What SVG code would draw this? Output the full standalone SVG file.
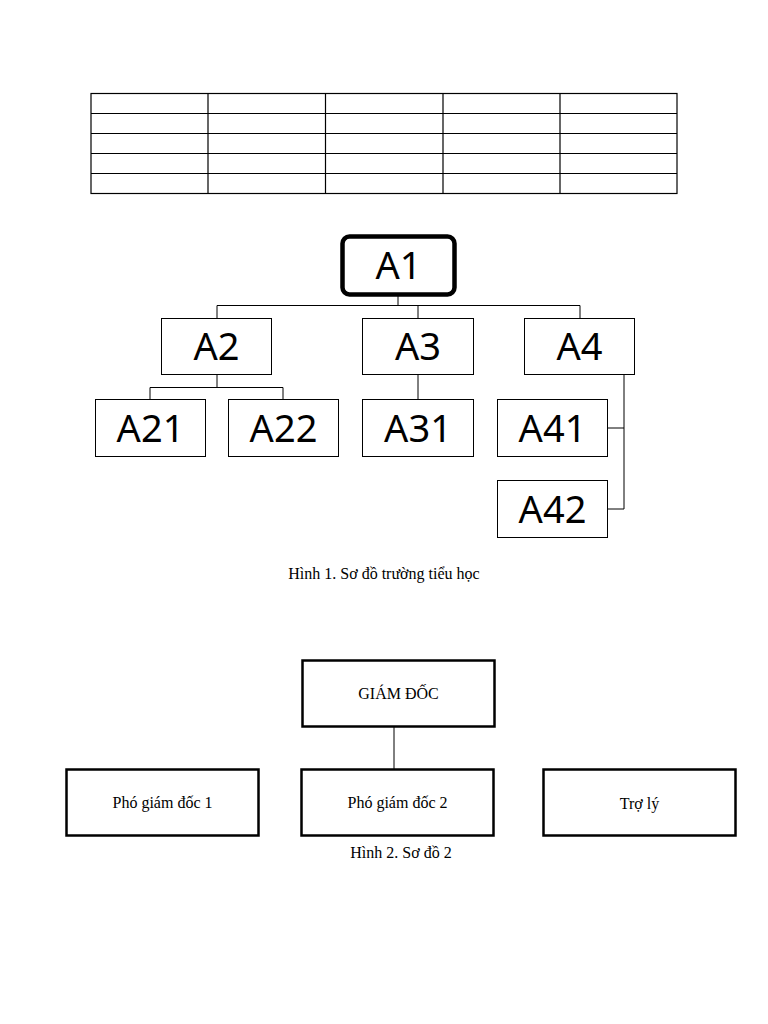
<svg xmlns="http://www.w3.org/2000/svg" width="768" height="1024" viewBox="0 0 768 1024">
<style>
.tbl{fill:none;stroke:#000;stroke-width:1.2}
.box{fill:#fff;stroke:#000;stroke-width:1}
.bigbox{fill:#fff;stroke:#000;stroke-width:4.5}
.lbl{font-family:"Noto Sans","Open Sans",sans-serif;font-size:38px;fill:#000;text-anchor:middle}
.cap{font-family:"Liberation Serif",serif;font-size:16px;fill:#000;text-anchor:middle}
.box2{fill:#fff;stroke:#000;stroke-width:2.5}
.lbl2{font-family:"Liberation Serif",serif;font-size:16px;fill:#000;text-anchor:middle}
.ln{fill:none;stroke:#000;stroke-width:1}
</style>
<rect width="768" height="1024" fill="#fff"/>
<g id="table">
<rect class="tbl" x="91" y="93.5" width="586" height="100"/>
<path class="tbl" d="M91 113.5H677M91 133.5H677M91 153.5H677M91 173.5H677M208 93.5V193.5M325.5 93.5V193.5M443 93.5V193.5M560 93.5V193.5"/>
</g>
<g id="connectors">
<path class="ln" d="M398 295V305.5M217 318V305.5H580V318M418 305.5V318"/>
<path class="ln" d="M217 375V387.5M150 399V387.5H283V399"/>
<path class="ln" d="M418 375V399"/>
<path class="ln" d="M624 375V509M607 428H624"/>
<path class="ln" stroke-width="2" d="M607 509H624"/>
<path class="ln" d="M394 727V771"/>
</g>
<g id="A1"><rect class="bigbox" x="342.5" y="236.5" width="112" height="58" rx="7"/><text class="lbl" x="398.5" y="279">A1</text></g>
<g id="A2"><rect class="box" x="161.5" y="318.5" width="110" height="56"/><text class="lbl" x="216.5" y="360">A2</text></g>
<g id="A3"><rect class="box" x="362.5" y="318.5" width="111" height="56"/><text class="lbl" x="418" y="360">A3</text></g>
<g id="A4"><rect class="box" x="524.5" y="318.5" width="110" height="56"/><text class="lbl" x="579.5" y="360">A4</text></g>
<g id="A21"><rect class="box" x="95.5" y="399.5" width="110" height="57"/><text class="lbl" x="150.5" y="442">A21</text></g>
<g id="A22"><rect class="box" x="228.5" y="399.5" width="110" height="57"/><text class="lbl" x="283.5" y="442">A22</text></g>
<g id="A31"><rect class="box" x="362.5" y="399.5" width="111" height="57"/><text class="lbl" x="418" y="442">A31</text></g>
<g id="A41"><rect class="box" x="497.5" y="399.5" width="110" height="57"/><text class="lbl" x="552.5" y="442">A41</text></g>
<g id="A42"><rect class="box" x="497.5" y="480.5" width="110" height="57"/><text class="lbl" x="552.5" y="523">A42</text></g>
<text class="cap" x="384" y="579">Hình 1. Sơ đồ trường tiểu học</text>
<g id="giamdoc"><rect class="box2" x="302.5" y="660.5" width="192" height="66"/><text class="lbl2" x="398.5" y="699">GIÁM ĐỐC</text></g>
<g id="pgd1"><rect class="box2" x="66.5" y="769.5" width="192" height="66"/><text class="lbl2" x="162.5" y="808">Phó giám đốc 1</text></g>
<g id="pgd2"><rect class="box2" x="301.5" y="769.5" width="192" height="66"/><text class="lbl2" x="397.5" y="808">Phó giám đốc 2</text></g>
<g id="troly"><rect class="box2" x="543.5" y="769.5" width="192" height="66"/><text class="lbl2" x="639.5" y="809">Trợ lý</text></g>
<text class="cap" x="401" y="858">Hình 2. Sơ đồ 2</text>
</svg>
